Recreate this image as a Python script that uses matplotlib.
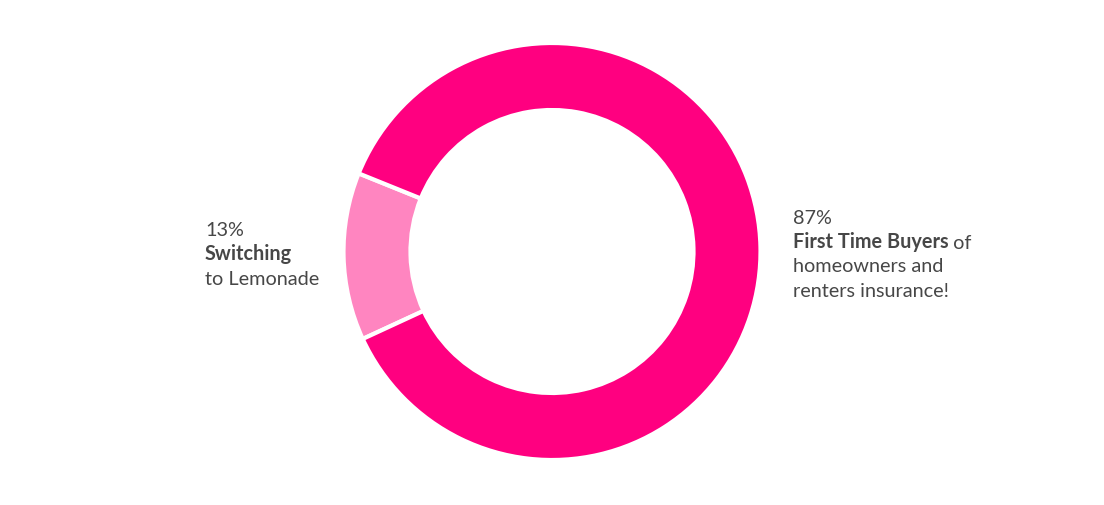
import matplotlib
matplotlib.use("Agg")
import matplotlib.pyplot as plt

labels = ["Switching to Lemonade", "First Time Buyers"]
values = [13, 87]
colors = ["#FF85C0", "#FF0080"]

W, H = 1104, 506
fig = plt.figure(figsize=(W / 100, H / 100), dpi=100)
ax = fig.add_axes([0, 0, 1, 1])

ax.pie(values, colors=colors, startangle=158, counterclock=True,
       center=(552, H - 252.5), radius=208.5, frame=True,
       wedgeprops=dict(width=67, edgecolor="white", linewidth=3))
ax.set_xlim(0, W)
ax.set_ylim(0, H)
ax.axis("off")

font = "Lato"
tc = "#474747"
fs = 14.3

def line(x, y, s, weight="normal"):
    return ax.text(x, H - y, s, fontsize=fs, family=font, color=tc,
                   weight=weight, ha="left", va="baseline")

line(205, 236, "13%")
line(205, 260.5, "Switching", "bold")
line(205, 285, "to Lemonade")

line(792.5, 223.5, "87%")
t = line(792.5, 248, "First Time Buyers", "bold")
ax.annotate(" of", xy=(1, 0), xycoords=t, fontsize=fs, family=font,
            color=tc, ha="left", va="bottom")
line(792.5, 272.5, "homeowners and")
line(792.5, 297, "renters insurance!")

fig.savefig("out.png", dpi=100)
